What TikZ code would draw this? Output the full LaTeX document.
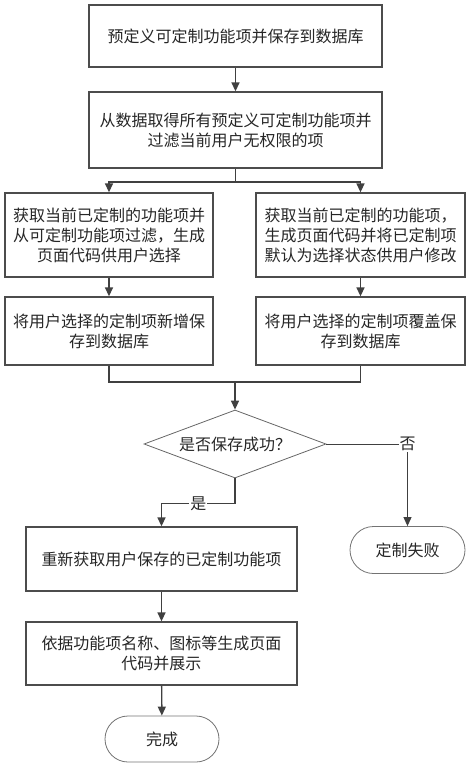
\documentclass[tikz,border=0pt]{standalone}
\usepackage{fontspec}
\newfontfamily\cjk{Noto Sans CJK SC}
\usetikzlibrary{arrows.meta,shapes.geometric,shapes.misc}
\begin{document}
\begin{tikzpicture}[x=1pt,y=-1pt,
    txt/.style={align=center,inner sep=0pt,text=black!85,font=\cjk\fontsize{16}{20}\selectfont},
    box/.style={txt,draw=black!70,line width=1.3pt},
    term/.style={txt,rounded rectangle,draw=black!55,line width=0.8pt},
    test/.style={txt,diamond,aspect=2.7,draw=black!60,line width=0.8pt},
    flow/.style={draw=black!75,line width=1.4pt},
    branchlabel/.style={fill=white,inner sep=1pt,text=black!85,font=\cjk\fontsize{16}{20}\selectfont}]
  \useasboundingbox (0,0) rectangle (474,771);
  \draw
    (235.5,36) node[box,minimum width=293pt,minimum height=62pt] (0){预定义可定制功能项并保存到数据库}
    (235.5,130) node[box,minimum width=293pt,minimum height=76pt] (1){从数据取得所有预定义可定制功能项并\\过滤当前用户无权限的项}
    (109,235) node[box,minimum width=208pt,minimum height=84pt] (2){获取当前已定制的功能项并\\从可定制功能项过滤，生成\\页面代码供用户选择}
    (360.5,235) node[box,minimum width=209pt,minimum height=84pt] (3){获取当前已定制的功能项，\\生成页面代码并将已定制项\\默认为选择状态供用户修改}
    (109,331) node[box,minimum width=208pt,minimum height=68pt] (4){将用户选择的定制项新增保\\存到数据库}
    (360.5,331) node[box,minimum width=209pt,minimum height=68pt] (5){将用户选择的定制项覆盖保\\存到数据库}
    (235,444) node[test,minimum width=182pt,minimum height=68pt] (6){是否保存成功？}
    (407.5,550) node[term,minimum width=115pt,minimum height=47pt] (7){定制失败}
    (161.5,559) node[box,minimum width=271pt,minimum height=64pt] (8){重新获取用户保存的已定制功能项}
    (161.5,653.5) node[box,minimum width=271pt,minimum height=63pt] (9){依据功能项名称、图标等生成页面\\代码并展示}
    (162,739) node[term,minimum width=114pt,minimum height=46pt] (10){完成};
  \coordinate (s) at (235.5,182);
  \coordinate (m) at (235,382);
  \begin{scope}[flow,-{Triangle[length=9pt,width=8pt]}]
    \draw (0) to (1);
    \draw[-] (1.south) to (s);
    \draw (s) -| (2.north);
    \draw (s) -| (3.north);
    \draw (2) to (4);
    \draw (3) to (5);
    \draw[-] (4.south) |- (m);
    \draw[-] (5.south) |- (m);
    \draw (m) to (6.north);
    \draw[line width=0.9pt] (6.east) -| node[branchlabel,pos=0.5]{否} (7.north);
    \draw (6.south) -- ++(0,25) -| node[branchlabel,pos=0.25]{是} (8.north);
    \draw (8) to (9);
    \draw (9) to (10);
  \end{scope}
\end{tikzpicture}
\end{document}
